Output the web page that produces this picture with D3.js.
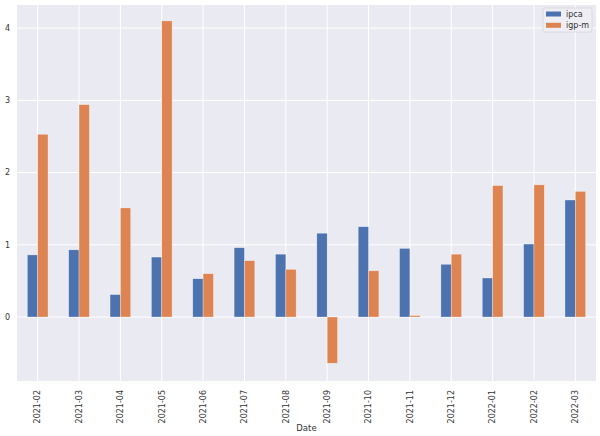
<!DOCTYPE html>
<html>
<head>
<meta charset="utf-8">
<script src="https://cdn.jsdelivr.net/npm/d3@7.9.0/dist/d3.min.js"></script>
<style>
  body { margin: 0; background: #fff; }
  svg { display: block; font-family: "DejaVu Sans", sans-serif; }
</style>
</head>
<body>
<svg id="chart" width="600" height="436"></svg>
<script>
const dates = ['2021-02', '2021-03', '2021-04', '2021-05', '2021-06', '2021-07', '2021-08',
  '2021-09', '2021-10', '2021-11', '2021-12', '2022-01', '2022-02', '2022-03'];
const ipca = [0.86, 0.93, 0.31, 0.83, 0.53, 0.96, 0.87, 1.16, 1.25, 0.95, 0.73, 0.54, 1.01, 1.62];
const igpm = [2.53, 2.94, 1.51, 4.10, 0.60, 0.78, 0.66, -0.64, 0.64, 0.02, 0.87, 1.82, 1.83, 1.74];
const seriesNames = ['ipca', 'igp-m'];
const yTicks = [0, 1, 2, 3, 4];

const colors = ['#4c72b0', '#dd8452'];
const series = [ipca, igpm];

const margin = { top: 5, right: 4, bottom: 55, left: 17 };
const width = 600, height = 436;
const textColor = '#333';
const svg = d3.select('#chart');

let x = d3.scaleBand()
  .domain(dates)
  .range([margin.left, width - margin.right]);

let inner = d3.scaleBand()
  .domain(seriesNames)
  .range([x.bandwidth() * 0.25, x.bandwidth() * 0.75]);

let y = d3.scaleLinear()
  .domain([-0.886, 4.32])
  .range([height - margin.bottom, margin.top]);

// background
svg.append('rect')
  .attr('x', margin.left)
  .attr('y', margin.top)
  .attr('width', width - margin.left - margin.right)
  .attr('height', height - margin.top - margin.bottom)
  .attr('fill', '#eaeaf2');

// grid
svg.append('g')
  .selectAll('line')
  .data(yTicks)
  .join('line')
  .attr('x1', margin.left)
  .attr('x2', width - margin.right)
  .attr('y1', d => y(d))
  .attr('y2', d => y(d))
  .attr('stroke', '#fff')
  .attr('stroke-width', 1);

svg.append('g')
  .selectAll('line')
  .data(dates)
  .join('line')
  .attr('x1', d => x(d) + x.bandwidth() / 2)
  .attr('x2', d => x(d) + x.bandwidth() / 2)
  .attr('y1', margin.top)
  .attr('y2', height - margin.bottom)
  .attr('stroke', '#fff')
  .attr('stroke-width', 1);

// bars
series.forEach((values, si) => {
  svg.append('g')
    .selectAll('rect')
    .data(values)
    .join('rect')
    .attr('x', (d, i) => x(dates[i]) + inner(seriesNames[si]))
    .attr('y', d => y(Math.max(0, d)))
    .attr('width', inner.bandwidth())
    .attr('height', d => Math.abs(y(d) - y(0)))
    .attr('fill', colors[si])
    .attr('stroke', '#fff')
    .attr('stroke-opacity', 0.5)
    .attr('stroke-width', 0.6);
});

// y tick labels
svg.append('g')
  .selectAll('text')
  .data(yTicks)
  .join('text')
  .attr('x', 10)
  .attr('y', d => y(d))
  .attr('dy', '0.35em')
  .attr('text-anchor', 'end')
  .attr('font-size', 8)
  .attr('fill', textColor)
  .text(d => d);

// x tick labels (rotated)
svg.append('g')
  .selectAll('text')
  .data(dates)
  .join('text')
  .attr('transform', d => `translate(${x(d) + x.bandwidth() / 2},${height - margin.bottom + 9}) rotate(-90)`)
  .attr('dy', '0.35em')
  .attr('text-anchor', 'end')
  .attr('font-size', 8)
  .attr('fill', textColor)
  .text(d => d);

svg.append('text')
  .attr('x', (margin.left + width - margin.right) / 2)
  .attr('y', 431)
  .attr('text-anchor', 'middle')
  .attr('font-size', 8.5)
  .attr('fill', textColor)
  .text('Date');

// legend
const legend = svg.append('g').attr('transform', 'translate(543,8)');
legend.append('rect')
  .attr('width', 49)
  .attr('height', 24)
  .attr('rx', 2)
  .attr('fill', '#eeeef4')
  .attr('stroke', '#d6d6dc')
  .attr('stroke-width', 0.8);

legend.selectAll('g')
  .data(seriesNames)
  .join('g')
  .attr('transform', (d, i) => `translate(3,${6 + i * 11.3})`)
  .each(function (d, i) {
    const g = d3.select(this);
    g.append('rect')
      .attr('x', 0)
      .attr('y', -2.5)
      .attr('width', 15)
      .attr('height', 5)
      .attr('fill', colors[i]);
    g.append('text')
      .attr('x', 20)
      .attr('dy', '0.35em')
      .attr('font-size', 8)
      .attr('fill', textColor)
      .text(d);
  });
</script>
</body>
</html>
